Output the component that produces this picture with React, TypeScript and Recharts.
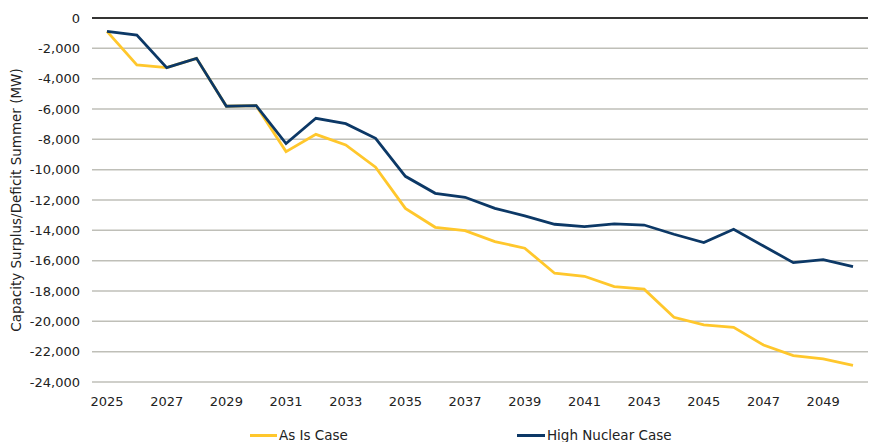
import React from 'react';
import { LineChart, Line, XAxis, YAxis, CartesianGrid, ReferenceLine, Legend } from 'recharts';

const years = [2025, 2026, 2027, 2028, 2029, 2030, 2031, 2032, 2033, 2034, 2035, 2036, 2037, 2038, 2039, 2040, 2041, 2042, 2043, 2044, 2045, 2046, 2047, 2048, 2049, 2050];

const asIsCase = [-880, -3100, -3270, -2660, -5820, -5780, -8810, -7670, -8370, -9840, -12550, -13800, -14020, -14740, -15180, -16830, -17030, -17710, -17880, -19730, -20240, -20390, -21560, -22260, -22480, -22900];

const highNuclearCase = [-880, -1120, -3270, -2660, -5820, -5780, -8280, -6610, -6970, -7930, -10440, -11560, -11820, -12550, -13050, -13600, -13760, -13580, -13650, -14260, -14810, -13930, -15030, -16130, -15930, -16390];

const yTicks = [0, -2000, -4000, -6000, -8000, -10000, -12000, -14000, -16000, -18000, -20000, -22000, -24000];

const seriesNames = { asIs: 'As Is Case', nuclear: 'High Nuclear Case' };
const colors = { asIs: '#FFC72C', nuclear: '#0C3866' };

const data = years.map((y, i) => ({ year: y, asIs: asIsCase[i], nuclear: highNuclearCase[i] }));

const FONT = '"DejaVu Sans", Verdana, sans-serif';

const fmt = (v: number) => v.toLocaleString('en-US');

const LegendContent = () => (
  <div style={{ display: 'flex', fontFamily: FONT, fontSize: 13.5, color: '#222', lineHeight: '14px' }}>
    <div style={{ display: 'flex', alignItems: 'center', marginRight: 169 }}>
      <span style={{ display: 'inline-block', width: 27, height: 3, background: colors.asIs, marginRight: 2 }} />
      <span>{seriesNames.asIs}</span>
    </div>
    <div style={{ display: 'flex', alignItems: 'center' }}>
      <span style={{ display: 'inline-block', width: 28, height: 3, background: colors.nuclear, marginRight: 2 }} />
      <span>{seriesNames.nuclear}</span>
    </div>
  </div>
);

const YTitle = (props: any) => {
  const vb = props.viewBox || {};
  const cx = 16;
  const cy = (vb.y ?? 18) + (vb.height ?? 364) / 2;
  return (
    <text
      x={cx}
      y={cy}
      transform={`rotate(-90, ${cx}, ${cy})`}
      textAnchor="middle"
      dominantBaseline="central"
      style={{ fontFamily: FONT, fontSize: 13.5, fill: '#222' }}
    >
      Capacity Surplus/Deficit Summer (MW)
    </text>
  );
};

export default function App() {
  return (
    <div style={{ position: 'absolute', left: 0, top: 0, width: 889, height: 442, background: '#fff', overflow: 'hidden' }}>
      <LineChart width={889} height={442} data={data} margin={{ top: 18, right: 21, bottom: 16, left: 0 }}>
        <CartesianGrid vertical={false} stroke="#BFBFB8" strokeWidth={1.5} />
        <XAxis
          dataKey="year"
          type="category"
          interval={1}
          padding={{ left: 15, right: 15 }}
          axisLine={false}
          tickLine={false}
          tickSize={0}
          tickMargin={15}
          height={30}
          tick={{ fontFamily: FONT, fontSize: 13, fill: '#222' }}
        />
        <YAxis
          domain={[-24000, 0]}
          ticks={yTicks}
          interval={0}
          width={92}
          axisLine={false}
          tickLine={false}
          tickSize={0}
          tickMargin={12}
          tickFormatter={fmt}
          tick={{ fontFamily: FONT, fontSize: 13, fill: '#222' }}
          label={{ content: (p: any) => <YTitle {...p} /> }}
        />
        <ReferenceLine y={0} stroke="#000" strokeWidth={1.5} />
        <Legend content={<LegendContent />} wrapperStyle={{ left: 250, top: 428, width: 'auto' }} />
        <Line type="linear" dataKey="asIs" name={seriesNames.asIs} stroke={colors.asIs} strokeWidth={2.8} dot={false} isAnimationActive={false} />
        <Line type="linear" dataKey="nuclear" name={seriesNames.nuclear} stroke={colors.nuclear} strokeWidth={2.8} dot={false} isAnimationActive={false} />
      </LineChart>
    </div>
  );
}
